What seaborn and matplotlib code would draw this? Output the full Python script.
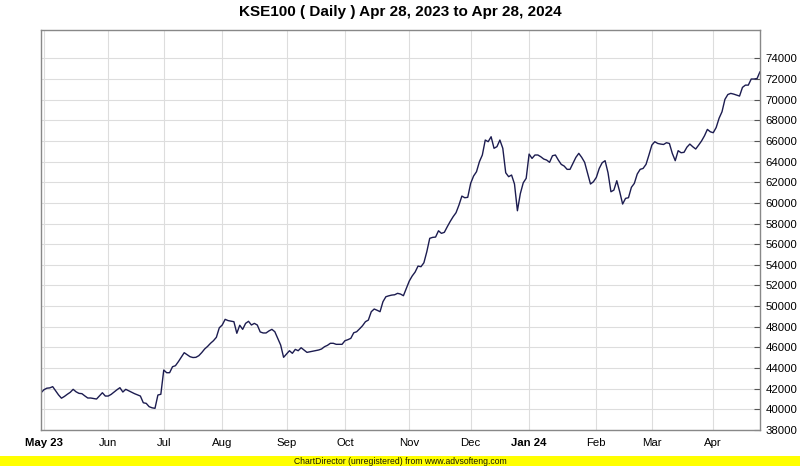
import numpy as np
import pandas as pd
import matplotlib
matplotlib.use("Agg")
import matplotlib.pyplot as plt
import seaborn as sns
from matplotlib.patches import Rectangle

TITLE = "KSE100 ( Daily ) Apr 28, 2023 to Apr 28, 2024"
START = "2023-04-28"
END = "2024-04-26"
HOLIDAYS = ["2023-05-01", "2023-06-28", "2023-06-29", "2023-06-30", "2023-07-28",
            "2023-08-14", "2023-09-29", "2023-11-09", "2023-12-25",
            "2024-02-05", "2024-02-08", "2024-04-10", "2024-04-11", "2024-04-12"]

close = [
    41600, 41900, 42050, 42080, 42200, 41800, 41400, 41080, 41250, 41460,
    41650, 41940, 41700, 41550, 41520, 41300, 41100, 41100, 41050, 41000,
    41300, 41610, 41290, 41290, 41450, 41680, 41900, 42100, 41680, 41940,
    41800, 41650, 41520, 41400, 41290, 40640, 40580, 40260, 40150, 40100,
    41390, 41460, 43810, 43550, 43550, 44130, 44230, 44620, 45050, 45490,
    45300, 45100, 45020, 45040, 45200, 45500, 45850, 46100, 46400, 46650,
    46980, 47900, 48170, 48720, 48600, 48550, 48490, 47370, 48150, 47750,
    48330, 48530, 48170, 48330, 48170, 47500, 47400, 47400, 47600, 47750,
    47520, 46880, 46230, 45040, 45360, 45680, 45430, 45810, 45680, 45970,
    45750, 45520, 45580, 45650, 45700, 45750, 45850, 46070, 46200, 46400,
    46400, 46300, 46300, 46300, 46650, 46750, 46880, 47420, 47520, 47800,
    48100, 48490, 48650, 49460, 49720, 49600, 49460, 50430, 50910, 51000,
    51070, 51100, 51240, 51170, 51010, 51720, 52430, 52920, 53300, 53880,
    53820, 54200, 55270, 56570, 56660, 56690, 57300, 57050, 57150, 57690,
    58200, 58660, 59050, 59790, 60660, 60500, 60540, 61890, 62600, 63020,
    63990, 64640, 66090, 65930, 66410, 65290, 65450, 66090, 65290, 62920,
    62540, 62700, 61830, 59240, 60900, 61950, 62380, 64730, 64310, 64640,
    64640, 64470, 64250, 64150, 63930, 64570, 64640, 64150, 63730, 63570,
    63250, 63250, 63830, 64410, 64800, 64410, 63930, 62860, 61830, 62050,
    62470, 63340, 63890, 64090, 62920, 61080, 61240, 62150, 61080, 59890,
    60440, 60500, 61510, 61890, 62800, 63250, 63340, 63730, 64640, 65600,
    65930, 65760, 65700, 65660, 65830, 65760, 64790, 64090, 65060, 64860,
    64900, 65400, 65700, 65440, 65220, 65600, 66000, 66500, 67120, 66890,
    66800, 67300, 68200, 68830, 70030, 70500, 70610, 70540, 70440, 70350,
    71190, 71410, 71410, 72000, 72000, 72050, 72710,
]

y_ticks = list(range(38000, 74001, 2000))
y_min, y_max = 38000, 76750

dates = pd.bdate_range(START, END)
dates = dates[~dates.isin(pd.to_datetime(HOLIDAYS))]
n = min(len(dates), len(close))
df = pd.DataFrame({"date": dates[:n], "close": close[:n]})
df["idx"] = np.arange(n)

# month tick positions = first trading day of each month
first = df.groupby(df["date"].dt.to_period("M"))["idx"].min()
tick_pos, tick_lab, tick_bold = [], [], []
for per, pos in first.items():
    if per.month == 4 and per.year == 2023:
        continue
    if per.month == 1 or (per.month == 5 and per.year == 2023):
        tick_lab.append(per.strftime("%b %y"))
        tick_bold.append(True)
    else:
        tick_lab.append(per.strftime("%b"))
        tick_bold.append(False)
    tick_pos.append(pos)

sns.set_theme(style="white")
plt.rcParams["font.family"] = ["Liberation Sans", "DejaVu Sans"]

fig = plt.figure(figsize=(8.0, 4.66), dpi=100)
ax = fig.add_axes([41 / 800, 1 - 430 / 466, 719 / 800, 400 / 466])

sns.lineplot(data=df, x="idx", y="close", ax=ax, color="#1c1c50", linewidth=1.0)

ax.set_xlim(0, n - 1)
ax.set_ylim(y_min, y_max)
ax.set_xticks(tick_pos)
ax.set_xticklabels(tick_lab, fontsize=8.2)
for lbl, b in zip(ax.get_xticklabels(), tick_bold):
    if b:
        lbl.set_fontweight("bold")
ax.set_yticks(y_ticks)
ax.set_yticklabels([str(v) for v in y_ticks], fontsize=8.2)
ax.yaxis.tick_right()
ax.set_xlabel("")
ax.set_ylabel("")

ax.grid(True, color="#dddddd", linewidth=0.8)
ax.set_axisbelow(True)
for s in ax.spines.values():
    s.set_color("#888888")
    s.set_linewidth(1.0)
ax.tick_params(axis="x", direction="out", length=3, width=0.8, color="#555555", pad=3, colors="black")
ax.tick_params(axis="y", direction="in", length=4, width=0.8, color="#555555", pad=4, labelcolor="black")
ax.tick_params(axis="y", which="both", left=False, right=True)
for t in ax.yaxis.get_major_ticks():
    t.tick2line.set_color("#555555")

fig.text(0.5, 1 - 12 / 466, TITLE, ha="center", va="center", fontsize=11, fontweight="bold", color="black")

fig.patches.append(Rectangle((0, 0), 1, 10 / 466, transform=fig.transFigure,
                             facecolor="#ffff00", edgecolor="none", zorder=0))
fig.text(0.5, 5 / 466, "ChartDirector (unregistered) from www.advsofteng.com",
         ha="center", va="center", fontsize=6.2, color="#1a1a00")

fig.savefig("out.png", dpi=100)
